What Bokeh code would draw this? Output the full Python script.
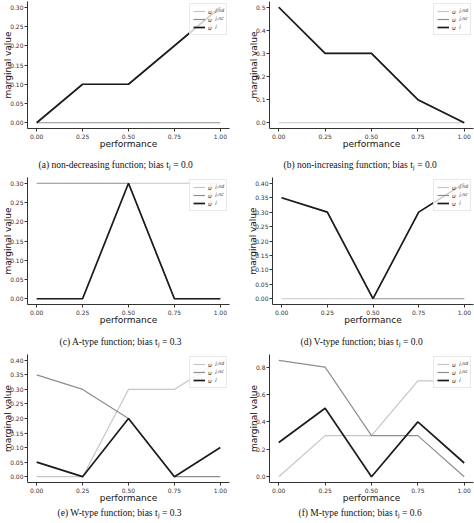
from bokeh.plotting import figure
from bokeh.layouts import column, row
from bokeh.models import Range1d, FixedTicker, NumeralTickFormatter, Legend, LegendItem
from bokeh.embed import file_html
from bokeh.resources import INLINE

# ---------------- data ----------------
performance = [0.0, 0.25, 0.50, 0.75, 1.00]
x_ticks = [0.0, 0.25, 0.50, 0.75, 1.00]

a_nd = [0.0, 0.1, 0.1, 0.2, 0.3]
a_nc = [0.0, 0.0, 0.0, 0.0, 0.0]
a_u = [0.0, 0.1, 0.1, 0.2, 0.3]

b_nd = [0.0, 0.0, 0.0, 0.0, 0.0]
b_nc = [0.5, 0.3, 0.3, 0.1, 0.0]
b_u = [0.5, 0.3, 0.3, 0.1, 0.0]

c_nd = [0.0, 0.0, 0.3, 0.3, 0.3]
c_nc = [0.3, 0.3, 0.3, 0.0, 0.0]
c_u = [0.0, 0.0, 0.3, 0.0, 0.0]

d_nd = [0.0, 0.0, 0.0, 0.3, 0.4]
d_nc = [0.35, 0.3, 0.0, 0.0, 0.0]
d_u = [0.35, 0.3, 0.0, 0.3, 0.4]

e_nd = [0.0, 0.0, 0.3, 0.3, 0.4]
e_nc = [0.35, 0.3, 0.2, 0.0, 0.0]
e_u = [0.05, 0.0, 0.2, 0.0, 0.1]

f_nd = [0.0, 0.3, 0.3, 0.7, 0.7]
f_nc = [0.85, 0.8, 0.3, 0.3, 0.0]
f_u = [0.25, 0.5, 0.0, 0.4, 0.1]

y_ticks_a = [0.0, 0.05, 0.10, 0.15, 0.20, 0.25, 0.30]
y_ticks_b = [0.0, 0.1, 0.2, 0.3, 0.4, 0.5]
y_ticks_c = [0.0, 0.05, 0.10, 0.15, 0.20, 0.25, 0.30]
y_ticks_d = [0.0, 0.05, 0.10, 0.15, 0.20, 0.25, 0.30, 0.35, 0.40]
y_ticks_e = [0.0, 0.05, 0.10, 0.15, 0.20, 0.25, 0.30, 0.35, 0.40]
y_ticks_f = [0.0, 0.2, 0.4, 0.6, 0.8]

captions = [
    "(a) non-decreasing function; bias t\u2c7c = 0.0",
    "(b) non-increasing function; bias t\u2c7c = 0.0",
    "(c) A-type function; bias t\u2c7c = 0.3",
    "(d) V-type function; bias t\u2c7c = 0.0",
    "(e) W-type function; bias t\u2c7c = 0.3",
    "(f) M-type function; bias t\u2c7c = 0.6",
]
legend_subs = ["j,nd", "j,nc", "j"]

C_ND = "#c6c6c6"
C_NC = "#8e8e8e"
C_U = "#1c1c1c"
AX = "#333333"

W = 237


def panel(nd, nc, u, yticks, yfmt, ymax, caption, H, bl, br, bt, bb, cap_left, cap_standoff):
    p = figure(width=W, height=H, output_backend="svg", toolbar_location=None,
               title=caption, title_location="below",
               min_border_left=bl, min_border_right=br, min_border_top=bt, min_border_bottom=bb,
               x_range=Range1d(-0.05, 1.05), y_range=Range1d(-0.05 * ymax, 1.05 * ymax))
    p.outline_line_color = None
    p.xgrid.grid_line_color = None
    p.ygrid.grid_line_color = None
    p.background_fill_color = "white"
    p.border_fill_color = "white"

    r_nd = p.line(performance, nd, line_color=C_ND, line_width=1.2)
    r_nc = p.line(performance, nc, line_color=C_NC, line_width=1.2)
    r_u = p.line(performance, u, line_color=C_U, line_width=1.7)

    for ax in (p.xaxis[0], p.yaxis[0]):
        ax.axis_line_color = AX
        ax.axis_line_width = 1
        ax.major_tick_line_color = AX
        ax.major_tick_in = 0
        ax.major_tick_out = 3
        ax.minor_tick_line_color = None
        ax.major_label_text_font = "DejaVu Sans"
        ax.major_label_text_font_size = "6px"
        ax.major_label_text_color = AX
        ax.axis_label_text_font = "DejaVu Sans"
        ax.axis_label_text_font_size = "9px"
        ax.axis_label_text_font_style = "normal"
        ax.axis_label_text_color = "#111111"
    p.xaxis.major_label_standoff = 2
    p.yaxis.major_label_standoff = 1
    p.yaxis.axis_label_standoff = -6
    p.xaxis.axis_label_standoff = -3
    p.xaxis.ticker = FixedTicker(ticks=x_ticks)
    p.xaxis.formatter = NumeralTickFormatter(format="0.00")
    p.yaxis.ticker = FixedTicker(ticks=yticks)
    p.yaxis.formatter = NumeralTickFormatter(format=yfmt)
    p.xaxis.axis_label = "performance"
    p.yaxis.axis_label = "marginal value"

    # caption
    p.title.text_font = "Liberation Serif"
    p.title.text_font_size = "9.5px"
    p.title.text_font_style = "normal"
    p.title.text_color = "#111111"
    p.title.align = "left"
    p.title.offset = cap_left - bl
    p.title.standoff = cap_standoff

    # main legend: line samples + "u"
    legend = Legend(items=[LegendItem(label="u", renderers=[r_nd]),
                           LegendItem(label="u", renderers=[r_nc]),
                           LegendItem(label="u", renderers=[r_u])],
                    location="top_right", margin=2, padding=3, spacing=0,
                    glyph_width=12, glyph_height=8, label_height=8, label_width=15,
                    label_standoff=3, label_text_font="DejaVu Sans", label_text_font_style="italic",
                    label_text_font_size="6px", label_text_color="#222222",
                    border_line_color="#d4d4d4", border_line_width=0.8,
                    background_fill_color="white", background_fill_alpha=0.8)
    p.add_layout(legend)

    # subscripts of the legend labels (transparent overlay legend, no samples)
    subs = Legend(items=[LegendItem(label=legend_subs[0], renderers=[r_nd]),
                         LegendItem(label=legend_subs[1], renderers=[r_nc]),
                         LegendItem(label=legend_subs[2], renderers=[r_u])],
                  location="top_right", margin=5, padding=2, spacing=0,
                  glyph_width=0, glyph_height=8, label_height=8, label_width=8,
                  label_standoff=0, label_text_font="DejaVu Sans", label_text_font_style="italic",
                  label_text_font_size="4.5px", label_text_color="#222222",
                  border_line_color=None, background_fill_alpha=0.0)
    p.add_layout(subs)
    return p


pa = panel(a_nd, a_nc, a_u, y_ticks_a, "0.00", 0.30, captions[0], 176, 27, 8, 1, 48, 38, 13)
pb = panel(b_nd, b_nc, b_u, y_ticks_b, "0.0", 0.50, captions[1], 176, 32, 1, 1, 48, 46, 13)
pc = panel(c_nd, c_nc, c_u, y_ticks_c, "0.00", 0.30, captions[2], 178, 27, 8, 1, 50, 59, 15)
pd = panel(d_nd, d_nc, d_u, y_ticks_d, "0.00", 0.40, captions[3], 178, 35, 1, 1, 50, 63, 15)
pe = panel(e_nd, e_nc, e_u, y_ticks_e, "0.00", 0.40, captions[4], 169, 27, 8, 0, 41, 57, 0)
pf = panel(f_nd, f_nc, f_u, y_ticks_f, "0.0", 0.85, captions[5], 169, 32, 1, 0, 41, 61, 0)

layout = column(row(pa, pb), row(pc, pd), row(pe, pf))
open("out.html", "w").write(file_html(layout, INLINE))
